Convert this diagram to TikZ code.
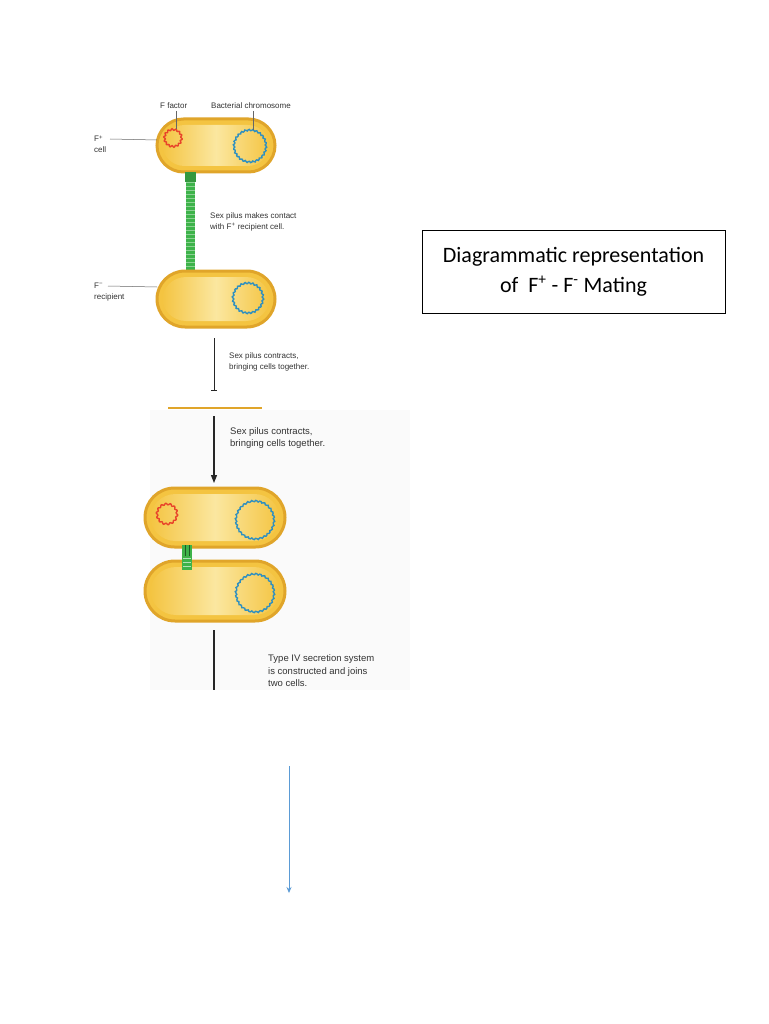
\documentclass[tikz,border=0pt]{standalone}
\usepackage{fontspec}
\setmainfont{Liberation Sans}
\newfontfamily\calib{Carlito}
\usetikzlibrary{arrows.meta}
\definecolor{cellrim}{HTML}{E0A52A}
\definecolor{cellin}{HTML}{F4C441}
\definecolor{celllight}{HTML}{FBE7A0}
\definecolor{pil}{HTML}{3DB34A}
\definecolor{chrom}{HTML}{2E8FC0}
\definecolor{ffac}{HTML}{E8442A}
\definecolor{barrow}{HTML}{5B9BD5}
\tikzset{
  lab/.style={font=\fontsize{8}{10.5}\selectfont, text=black!80, anchor=west, inner sep=0, align=left},
  lead/.style={draw=black!60, line width=0.5pt},
  flow/.style={draw=black!85, line width=0.9pt},
}
\newcommand{\cellshape}[4]{% x1 y1 x2 y2
  \pgfmathsetmacro{\hh}{(#4-#2)/2}
  \draw[cellrim, line width=3pt, fill=cellin, rounded corners=\hh pt] (#1,#2) rectangle (#3,#4);
  \shade[left color=cellin, right color=cellin, middle color=celllight, rounded corners=\hh pt-4pt] (#1+5,#2+6) rectangle (#3-5,#4-6);
}
\newcommand{\wavy}[5]{% cx cy r color n
  \draw[#4, line width=1.4pt] plot[smooth cycle, samples=90, domain=0:356] ({#1+(#3+0.8*sin(#5*\x))*cos(\x)},{#2+(#3+0.8*sin(#5*\x))*sin(\x)});
}
\begin{document}
\begin{tikzpicture}[x=1pt,y=-1pt]
\useasboundingbox (0,0) rectangle (768,1024);
\fill[white] (0,0) rectangle (768,1024);
\fill[black!2] (150,410) rectangle (410,690);
% cell 1
\cellshape{157}{119}{275}{172}
\wavy{173}{138}{8.5}{ffac}{14}
\wavy{250}{146}{16}{chrom}{26}
\node[lab] (ff) at (160,106) {F factor};
\node[lab] (bc) at (211,106) {Bacterial chromosome};
\coordinate (ffc) at (176,129);
\coordinate (bcc) at (253,130);
\draw[lead] (176,111) -- (ffc);
\draw[lead] (253,111) -- (bcc);
\node[lab, align=left] (fplus) at (94,144) {F\textsuperscript{+}\\cell};
\coordinate (c1l) at (157,140);
\draw[lead] (110,139) -- (c1l);
% pilus
\fill[pil] (186,175) rectangle (195,270);
\foreach \y in {178,182,...,268} \draw[pil!60!white, line width=0.4pt] (186,\y) -- (195,\y);
\fill[pil!85!black] (185,172) rectangle (196,182);
\node[lab] (t1) at (210,222) {Sex pilus makes contact\\with F\textsuperscript{+} recipient cell.};
% cell 2
\cellshape{157}{271}{275}{327}
\wavy{248}{298}{15}{chrom}{24}
\node[lab] (fminus) at (94,292) {F\textsuperscript{−}\\recipient};
\coordinate (c2l) at (157,287);
\draw[lead] (108,286) -- (c2l);
% arrow 1 (cut)
\coordinate (a1s) at (214,338);
\coordinate (a1e) at (214,390);
\draw[flow] (a1s) -- (a1e);
\draw[flow] (211,390) -- (217,390);
\node[lab] (t2) at (229,362) {Sex pilus contracts,\\bringing cells together.};
% faint cell edge
\draw[cellrim, line width=2pt] (168,408) -- (262,408);
% arrow 2
\coordinate (a2s) at (214,416);
\coordinate (a2e) at (214,483);
\draw[flow, line width=1.2pt, -{Triangle[length=8pt,width=6pt]}] (a2s) -- (a2e);
\node[lab, font=\fontsize{9.5}{12.5}\selectfont] (t3) at (230,438) {Sex pilus contracts,\\bringing cells together.};
% cell 3 and 4
\cellshape{145}{488}{285}{547}
\wavy{167}{514}{10}{ffac}{14}
\wavy{255}{520}{19}{chrom}{28}
\cellshape{145}{561}{285}{621}
\wavy{255}{593}{19}{chrom}{28}
\fill[pil] (182,545) rectangle (192,570);
\draw[pil!50!black, line width=0.4pt] (185,545) -- (185,556) (189,545) -- (189,556);
\foreach \y in {558,562,566} \draw[pil!40!white, line width=0.5pt] (183,\y) -- (191,\y);
% arrow 3
\coordinate (a3s) at (214,630);
\coordinate (a3e) at (214,690);
\draw[flow, line width=1.2pt] (a3s) -- (a3e);
\node[lab, font=\fontsize{9.5}{12.5}\selectfont] (t4) at (268,671) {Type IV secretion system\\is constructed and joins\\two cells.};
% blue arrow
\coordinate (b1) at (289,766);
\coordinate (b2) at (289,893);
\draw[barrow, line width=0.8pt, -{Stealth[length=6pt,width=5pt]}] (b1) -- (b2);
% title box
\node[draw=black, line width=0.8pt, minimum width=303pt, minimum height=83pt, align=center, font=\calib\fontsize{22}{30}\selectfont] (title) at (573.5,271.5) {Diagrammatic representation\\of\ \ F\textsuperscript{+} - F\textsuperscript{-} Mating};
\end{tikzpicture}
\end{document}
